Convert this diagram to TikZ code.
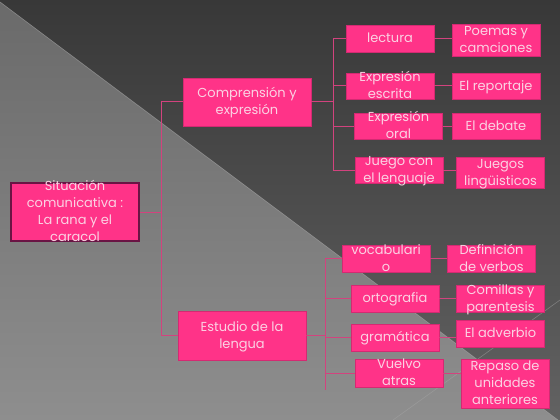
\documentclass[tikz,border=0pt]{standalone}
\usepackage{fontspec}
\setmainfont{Poppins}
\usetikzlibrary{positioning}
\definecolor{boxpink}{HTML}{FF3388}
\definecolor{boxline}{HTML}{D42A72}
\definecolor{rootline}{HTML}{6A1444}
\definecolor{txtpink}{HTML}{FBD2E3}
\definecolor{linkpink}{HTML}{D2437E}
\definecolor{bgdarktop}{HTML}{383838}
\definecolor{bgdarkbot}{HTML}{626262}
\definecolor{bglighttop}{HTML}{6A6A6A}
\definecolor{bglightbot}{HTML}{8E8E8E}
\newcommand{\boxtext}[1]{\smash{\raisebox{-4pt}{\begin{tabular}{@{}c@{}}#1\end{tabular}}}}

\begin{document}
\begin{tikzpicture}[
        x=1pt, y=-1pt,
        box/.style={rectangle, draw=boxline, fill=boxpink, line width=0.8pt, inner sep=0pt,
            minimum width=88pt, minimum height=27pt, text=txtpink, font=\fontsize{13}{17}\selectfont},
        bigbox/.style={box, minimum width=128pt, minimum height=48pt},
        link/.style={draw=linkpink, line width=1pt}
    ]
        \useasboundingbox (0,0) rectangle (560,420);

        % Background
        \shade[top color=bgdarktop, bottom color=bgdarkbot] (0,0) rectangle (560,420);
        \shade[top color=bglighttop, bottom color=bglightbot] (0,2) -- (558,420) -- (0,420) -- cycle;
        \draw[gray!70!white, opacity=0.6, line width=0.6pt] (0,2) -- (558,420);
        \draw[gray!70!white, opacity=0.5, line width=0.6pt] (560,300) -- (393,420);

        % Root
        \node[bigbox, draw=rootline, line width=1.6pt, minimum height=58pt] (root) at (75,212)
            {\boxtext{Situación\\comunicativa :\\La rana y el\\caracol}};

        % First level
        \node[bigbox] (comp) at (247,102) {\boxtext{Comprensión y\\expresión}};
        \node[bigbox, minimum height=49pt] (estu) at (242,335.5) {\boxtext{Estudio de la\\lengua}};

        % Second level, upper branch
        \node[box] (lect) at (390,38.5) {\boxtext{lectura}};
        \node[box, minimum height=26pt] (escr) at (390,86) {\boxtext{Expresión\\escrita}};
        \node[box, minimum height=26pt] (oral) at (398.5,126) {\boxtext{Expresión\\oral}};
        \node[box, minimum height=26pt] (jueg) at (399,170) {\boxtext{Juego con\\el lenguaje}};

        % Third level, upper branch
        \node[box, minimum height=32pt] (poem) at (496,40) {\boxtext{Poemas y\\camciones}};
        \node[box, minimum height=26pt] (repo) at (496,86) {\boxtext{El reportaje}};
        \node[box, minimum height=26pt] (deba) at (496,126) {\boxtext{El debate}};
        \node[box, minimum height=31pt] (ling) at (500.5,172.5) {\boxtext{Juegos\\lingüisticos}};

        % Second level, lower branch
        \node[box] (voca) at (386,258.5) {\boxtext{vocabulari\\o}};
        \node[box] (orto) at (395,298.5) {\boxtext{ortografia}};
        \node[box] (gram) at (395,337.5) {\boxtext{gramática}};
        \node[box, minimum height=28pt] (vuel) at (399,373) {\boxtext{Vuelvo\\atras}};

        % Third level, lower branch
        \node[box] (defi) at (491.5,258.5) {\boxtext{Definición\\de verbos}};
        \node[box] (comi) at (500.5,298.5) {\boxtext{Comillas y\\parentesis}};
        \node[box] (adve) at (500.5,333.5) {\boxtext{El adverbio}};
        \node[box, minimum height=49pt] (repa) at (505,383.5) {\boxtext{Repaso de\\unidades\\anteriores}};

        % Connectors from the root
        \coordinate (jroot) at (161,212);
        \draw[link] (root.east) -- (jroot);
        \draw[link] (comp.west) -| (jroot);
        \draw[link] (estu.west) -| (jroot);

        % Upper bracket
        \coordinate (jcomp) at (333,102);
        \draw[link] (comp.east) -- (jcomp);
        \foreach \n in {lect, escr, oral, jueg} {
            \draw[link] (\n.west) -| (jcomp);
        }

        % Lower bracket
        \coordinate (jestu) at (325,335.5);
        \coordinate (jend) at (325,390);
        \draw[link] (estu.east) -- (jestu) -- (jend);
        \foreach \n in {voca, orto, gram, vuel} {
            \draw[link] (\n.west) -| (jestu);
        }

        % Leaves
        \foreach \a/\b in {lect/poem, escr/repo, oral/deba, jueg/ling, voca/defi, orto/comi, gram/adve, vuel/repa} {
            \draw[link] (\a.east) -- (\a.east -| \b.west);
        }
    \end{tikzpicture}
\end{document}
